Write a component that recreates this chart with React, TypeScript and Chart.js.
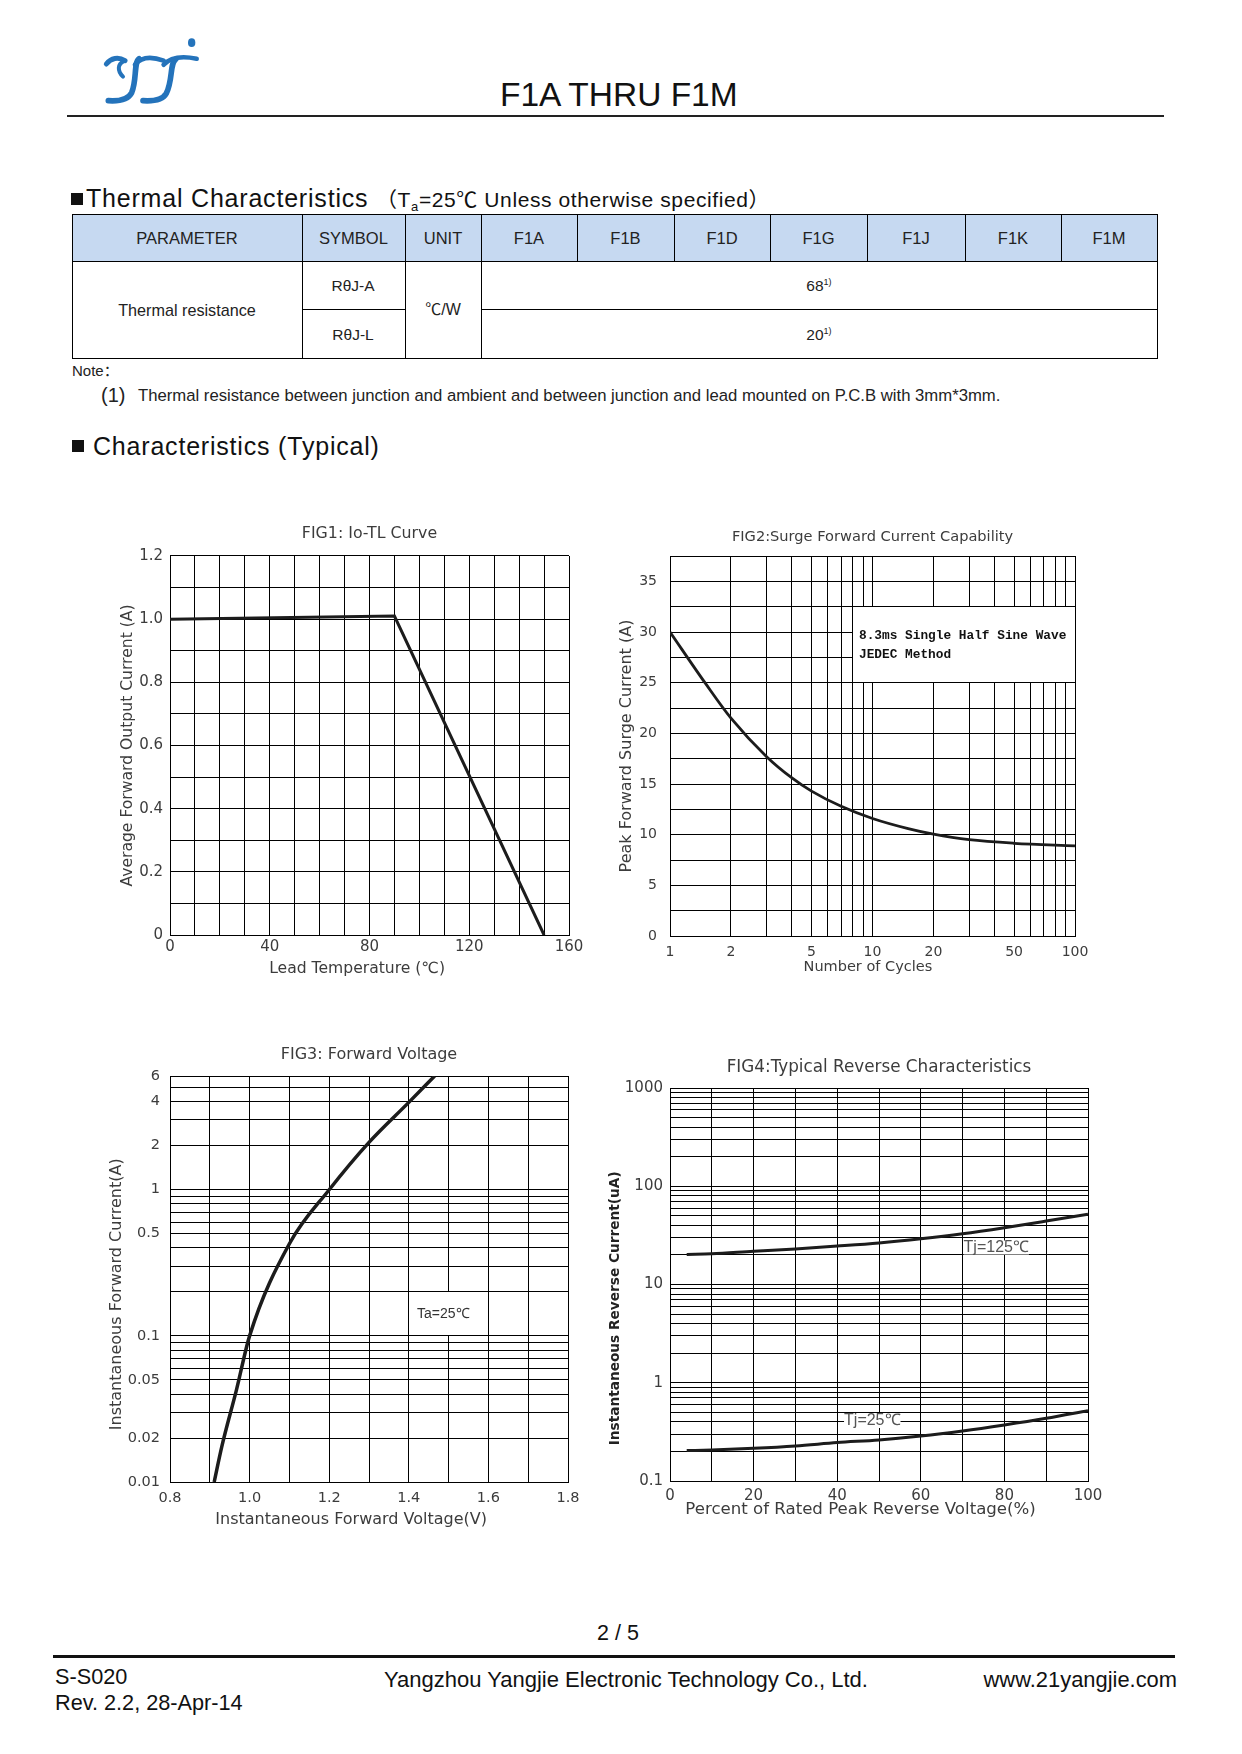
import React, { useEffect, useRef } from "react";
import { Chart, registerables } from "chart.js";

Chart.register(...registerables);

const SANS = "'DejaVu Sans', sans-serif";
const ARIAL = "'Liberation Sans', Arial, 'Noto Sans CJK SC', sans-serif";
const INK = "#3c3c3c";
const CURVE = "#1c1c1c";

// ---------------- FIG1: Io-TL curve ----------------
const fig1Temperature = [0, 90, 150];
const fig1Current = [1.0, 1.01, 0];
const fig1XTicks = [0, 10, 20, 30, 40, 50, 60, 70, 80, 90, 100, 110, 120, 130, 140, 150, 160];
const fig1XLabels = [0, 40, 80, 120, 160];
const fig1YTicks = [0, 0.1, 0.2, 0.3, 0.4, 0.5, 0.6, 0.7, 0.8, 0.9, 1.0, 1.1, 1.2];
const fig1YLabels = [0, 0.2, 0.4, 0.6, 0.8, 1.0, 1.2];

// ---------------- FIG2: surge current ----------------
const fig2Cycles = [1, 1.5, 2, 3, 4, 5, 7, 10, 15, 20, 30, 50, 100];
const fig2Surge = [30, 24.9, 21.5, 17.7, 15.6, 14.3, 12.8, 11.6, 10.6, 10.05, 9.5, 9.15, 8.9];
const fig2XTicks = [1, 2, 3, 4, 5, 6, 7, 8, 9, 10, 20, 30, 40, 50, 60, 70, 80, 90, 100];
const fig2XLabels = [1, 2, 5, 10, 20, 50, 100];
const fig2YTicks = [0, 2.5, 5, 7.5, 10, 12.5, 15, 17.5, 20, 22.5, 25, 27.5, 30, 32.5, 35, 37.5];
const fig2YLabels = [0, 5, 10, 15, 20, 25, 30, 35];
const fig2Note = ["8.3ms Single Half Sine Wave", "JEDEC Method"];

// ---------------- FIG3: forward voltage ----------------
const fig3Voltage = [0.911, 0.93, 0.967, 1.0, 1.1, 1.2, 1.3, 1.4, 1.465];
const fig3Current = [0.01, 0.0174, 0.0427, 0.1, 0.427, 1.0, 2.11, 3.96, 6.0];
const fig3XTicks = [0.8, 0.9, 1.0, 1.1, 1.2, 1.3, 1.4, 1.5, 1.6, 1.7, 1.8];
const fig3XLabels = [0.8, 1.0, 1.2, 1.4, 1.6, 1.8];
const fig3YTicks = [0.01, 0.02, 0.03, 0.04, 0.05, 0.06, 0.07, 0.08, 0.09, 0.1, 0.2, 0.3, 0.4, 0.5, 0.6, 0.7, 0.8, 0.9, 1, 2, 3, 4, 5, 6];
const fig3YLabels = [0.01, 0.02, 0.05, 0.1, 0.5, 1, 2, 4, 6];
const fig3Note = "Ta=25℃";

// ---------------- FIG4: reverse characteristics ----------------
const fig4Percent = [4, 10, 20, 30, 40, 50, 60, 70, 80, 90, 100];
const fig4Tj125 = [20.2, 20.5, 21.8, 23, 24.6, 26.5, 29.2, 32.8, 37.8, 44.2, 52];
const fig4Tj25 = [0.204, 0.207, 0.215, 0.227, 0.246, 0.262, 0.287, 0.323, 0.372, 0.435, 0.52];
const fig4XTicks = [0, 10, 20, 30, 40, 50, 60, 70, 80, 90, 100];
const fig4XLabels = [0, 20, 40, 60, 80, 100];
const fig4YTicks = [
  0.1, 0.2, 0.3, 0.4, 0.5, 0.6, 0.7, 0.8, 0.9,
  1, 2, 3, 4, 5, 6, 7, 8, 9,
  10, 20, 30, 40, 50, 60, 70, 80, 90,
  100, 200, 300, 400, 500, 600, 700, 800, 900, 1000,
];
const fig4YLabels = [0.1, 1, 10, 100, 1000];
const fig4SeriesNames = ["Tj=125℃", "Tj=25℃"];

// ---------------- table ----------------
const tableHeaders = ["PARAMETER", "SYMBOL", "UNIT", "F1A", "F1B", "F1D", "F1G", "F1J", "F1K", "F1M"];
const thermalSymbols = ["RθJ-A", "RθJ-L"];
const thermalValues = ["68", "20"];

type Axis = {
  type: "linear" | "logarithmic";
  min: number;
  max: number;
  grid: number[];
  labels: number[];
  fmt?: (v: number) => string;
};

type Fig = {
  plot: [number, number, number, number];
  title: string;
  titleY: number;
  titleSize: number;
  xTitle: string;
  xTitleY: number;
  xTitleSize: number;
  xTitleShift?: number; // number of trailing spaces (moves the centred title left)
  yTitle: string;
  yTitleX: number;
  yTitleSize: number;
  yTitleShift?: number; // trailing spaces (moves the rotated title down)
  yTitleBold?: boolean;
  tickSize: number;
  yGap: number;
  xLabelY: number;
  x: Axis;
  y: Axis;
  datasets: any[];
  plugins?: any[];
};

function frame(f: Fig) {
  const [, , r] = f.plot;
  const cx = Math.floor(f.yTitleX - f.yTitleSize * 0.6 - 6);
  const cy = Math.floor(f.titleY - f.titleSize * 0.6 - 6);
  const right = r + 30;
  const bottom = Math.ceil(f.xTitleY + f.xTitleSize * 0.6 + 6);
  return { cx, cy, cw: right - cx, ch: bottom - cy };
}

const pad = (s: string, n?: number) => s + " ".repeat(n || 0);

function buildConfig(f: Fig): any {
  const [l, t, r, b] = f.plot;
  const { cx, cy, cw, ch } = frame(f);
  const lhT = f.titleSize * 1.2;
  const lhX = f.xTitleSize * 1.2;
  const lhY = f.yTitleSize * 1.2;
  const lhTick = f.tickSize * 1.2;
  const mkScale = (a: Axis, horizontal: boolean) => ({
    type: a.type,
    min: a.min,
    max: a.max,
    afterBuildTicks: (s: any) => {
      s.ticks = a.grid.map((v) => ({ value: v }));
    },
    afterFit: horizontal
      ? (s: any) => {
          s.height = cy + ch - b;
        }
      : (s: any) => {
          s.width = l - cx;
        },
    grid: { color: "#000", lineWidth: 1, drawTicks: false },
    border: { color: "#000", width: 1 },
    ticks: {
      autoSkip: false,
      maxRotation: 0,
      minRotation: 0,
      padding: horizontal ? f.xLabelY - b - lhTick / 2 : f.yGap,
      font: { family: SANS, size: f.tickSize },
      color: INK,
      callback: (v: number) => (a.labels.includes(v) ? (a.fmt ? a.fmt(v) : String(v)) : ""),
    },
    title: horizontal
      ? {
          display: true,
          text: pad(f.xTitle, f.xTitleShift),
          color: INK,
          font: { family: SANS, size: f.xTitleSize },
          padding: { top: 0, bottom: cy + ch - f.xTitleY - lhX / 2 },
        }
      : {
          display: true,
          text: pad(f.yTitle, f.yTitleShift),
          color: f.yTitleBold ? "#222" : INK,
          font: { family: SANS, size: f.yTitleSize, weight: f.yTitleBold ? "bold" : "normal" },
          padding: { top: f.yTitleX - cx - lhY / 2, bottom: 0 },
        },
  });
  return {
    type: "line",
    data: { datasets: f.datasets },
    options: {
      responsive: false,
      animation: false,
      events: [],
      layout: { padding: { left: 0, top: 0, right: cx + cw - r, bottom: 0 } },
      plugins: {
        legend: { display: false },
        tooltip: { enabled: false },
        title: {
          display: true,
          text: f.title,
          fullSize: false,
          color: INK,
          font: { family: SANS, size: f.titleSize, weight: "normal" },
          padding: { top: f.titleY - lhT / 2 - cy, bottom: t - f.titleY - lhT / 2 },
        },
      },
      scales: { x: mkScale(f.x, true), y: mkScale(f.y, false) },
    },
    plugins: f.plugins || [],
  };
}

const lineDs = (xs: number[], ys: number[], width: number, smooth: boolean) => ({
  data: xs.map((x, i) => ({ x, y: ys[i] })),
  borderColor: CURVE,
  borderWidth: width,
  pointRadius: 0,
  fill: false,
  tension: smooth ? 0.4 : 0,
  cubicInterpolationMode: smooth ? "monotone" : "default",
});

const gridCol = (p: number) => Math.round(p - 0.5);

const fig2NotePlugin = {
  id: "fig2note",
  beforeDatasetsDraw(chart: any) {
    const { ctx, scales, chartArea } = chart;
    const x0 = gridCol(scales.x.getPixelForValue(8));
    const x1 = gridCol(chartArea.right);
    const y0 = gridCol(scales.y.getPixelForValue(32.5));
    const y1 = gridCol(scales.y.getPixelForValue(25));
    ctx.save();
    ctx.fillStyle = "#fff";
    ctx.fillRect(x0 + 1, y0 + 1, x1 - x0 - 1, y1 - y0 - 1);
    ctx.fillStyle = "#111";
    ctx.font = "bold 12.8px 'Liberation Mono', monospace";
    ctx.textBaseline = "middle";
    ctx.textAlign = "left";
    ctx.fillText(fig2Note[0], x0 + 7, y0 + (y1 - y0) * 0.39);
    ctx.fillText(fig2Note[1], x0 + 7, y0 + (y1 - y0) * 0.64);
    ctx.restore();
  },
};

const fig3NotePlugin = {
  id: "fig3note",
  beforeDatasetsDraw(chart: any) {
    const { ctx, scales } = chart;
    const x0 = gridCol(scales.x.getPixelForValue(1.4));
    const x1 = gridCol(scales.x.getPixelForValue(1.6));
    const y0 = gridCol(scales.y.getPixelForValue(0.2));
    const y1 = gridCol(scales.y.getPixelForValue(0.1));
    ctx.save();
    ctx.fillStyle = "#fff";
    ctx.fillRect(x0 + 1, y0 + 1, x1 - x0 - 1, y1 - y0 - 1);
    ctx.fillStyle = "#333";
    ctx.font = "14px 'Liberation Sans', sans-serif";
    ctx.textBaseline = "middle";
    ctx.textAlign = "left";
    ctx.fillText(fig3Note, x0 + 9, (y0 + y1) / 2 + 1);
    ctx.restore();
  },
};

const fig4LabelPlugin = {
  id: "fig4labels",
  afterDatasetsDraw(chart: any) {
    const { ctx, scales } = chart;
    const spots = [
      { text: fig4SeriesNames[0], x: 70, y: 23.8 },
      { text: fig4SeriesNames[1], x: 41.4, y: 0.408 },
    ];
    ctx.save();
    ctx.font = "16px 'Liberation Sans', sans-serif";
    ctx.textBaseline = "middle";
    ctx.textAlign = "left";
    for (const s of spots) {
      const px = scales.x.getPixelForValue(s.x);
      const py = scales.y.getPixelForValue(s.y);
      const w = ctx.measureText(s.text).width;
      ctx.fillStyle = "#fff";
      ctx.fillRect(px + 1, py - 7, w, 14);
      ctx.fillStyle = "#555";
      ctx.fillText(s.text, px + 1, py);
    }
    ctx.restore();
  },
};

const fig1: Fig = {
  plot: [170, 556, 569, 935],
  title: "FIG1: Io-TL Curve",
  titleY: 534,
  titleSize: 15.8,
  xTitle: "Lead Temperature (℃)",
  xTitleY: 969,
  xTitleSize: 15.6,
  xTitleShift: 5,
  yTitle: "Average Forward Output Current (A)",
  yTitleX: 128,
  yTitleSize: 15.6,
  tickSize: 15,
  yGap: 7,
  xLabelY: 947,
  x: { type: "linear", min: 0, max: 160, grid: fig1XTicks, labels: fig1XLabels },
  y: {
    type: "linear",
    min: 0,
    max: 1.2,
    grid: fig1YTicks,
    labels: fig1YLabels,
    fmt: (v) => (v === 0 ? "0" : v.toFixed(1)),
  },
  datasets: [lineDs(fig1Temperature, fig1Current, 3, false)],
};

const fig2: Fig = {
  plot: [670, 556, 1075, 936],
  title: "FIG2:Surge Forward Current Capability",
  titleY: 537,
  titleSize: 14.6,
  xTitle: "Number of Cycles",
  xTitleY: 967,
  xTitleSize: 14.5,
  xTitleShift: 2,
  yTitle: "Peak Forward Surge Current (A)",
  yTitleX: 627,
  yTitleSize: 16,
  tickSize: 14,
  yGap: 13,
  xLabelY: 952,
  x: { type: "logarithmic", min: 1, max: 100, grid: fig2XTicks, labels: fig2XLabels },
  y: { type: "linear", min: 0, max: 37.5, grid: fig2YTicks, labels: fig2YLabels },
  datasets: [lineDs(fig2Cycles, fig2Surge, 2.8, true)],
  plugins: [fig2NotePlugin],
};

const fig3: Fig = {
  plot: [170, 1076, 568, 1482],
  title: "FIG3: Forward Voltage",
  titleY: 1055,
  titleSize: 16,
  xTitle: "Instantaneous Forward Voltage(V)",
  xTitleY: 1520,
  xTitleSize: 16,
  xTitleShift: 7,
  yTitle: "Instantaneous Forward Current(A)",
  yTitleX: 117,
  yTitleSize: 16,
  yTitleShift: 6,
  tickSize: 14.5,
  yGap: 10,
  xLabelY: 1498,
  x: {
    type: "linear",
    min: 0.8,
    max: 1.8,
    grid: fig3XTicks,
    labels: fig3XLabels,
    fmt: (v) => v.toFixed(1),
  },
  y: { type: "logarithmic", min: 0.01, max: 6, grid: fig3YTicks, labels: fig3YLabels },
  datasets: [lineDs(fig3Voltage, fig3Current, 3.5, true)],
  plugins: [fig3NotePlugin],
};

const fig4: Fig = {
  plot: [670, 1088, 1088, 1481],
  title: "FIG4:Typical Reverse Characteristics",
  titleY: 1068,
  titleSize: 16.8,
  xTitle: "Percent of Rated Peak Reverse Voltage(%)",
  xTitleY: 1510,
  xTitleSize: 16.6,
  xTitleShift: 7,
  yTitle: "Instantaneous Reverse Current(uA)",
  yTitleX: 615,
  yTitleSize: 13.7,
  yTitleShift: 10,
  yTitleBold: true,
  tickSize: 15,
  yGap: 7,
  xLabelY: 1496,
  x: { type: "linear", min: 0, max: 100, grid: fig4XTicks, labels: fig4XLabels },
  y: { type: "logarithmic", min: 0.1, max: 1000, grid: fig4YTicks, labels: fig4YLabels },
  datasets: [lineDs(fig4Percent, fig4Tj125, 3, true), lineDs(fig4Percent, fig4Tj25, 3, true)],
  plugins: [fig4LabelPlugin],
};

function Figure({ fig }: { fig: Fig }) {
  const ref = useRef<HTMLCanvasElement>(null);
  const fr = frame(fig);
  useEffect(() => {
    const chart = new Chart(ref.current as HTMLCanvasElement, buildConfig(fig));
    return () => chart.destroy();
  }, []);
  return (
    <canvas
      ref={ref}
      width={fr.cw}
      height={fr.ch}
      style={{ position: "absolute", left: fr.cx, top: fr.cy, width: fr.cw, height: fr.ch }}
    />
  );
}

type TxtProps = {
  x: number;
  y: number;
  fs: number;
  align?: "left" | "center" | "right";
  family?: string;
  weight?: number;
  color?: string;
  ls?: number;
  style?: any;
  children?: any;
};

function Txt({ x, y, fs, align = "left", family = ARIAL, weight = 400, color = "#111", ls = 0, style, children }: TxtProps) {
  const s: any = {
    position: "absolute",
    top: y - 0.4885 * fs,
    fontSize: fs,
    lineHeight: 1,
    fontFamily: family,
    fontWeight: weight,
    color,
    letterSpacing: ls,
    whiteSpace: "nowrap",
  };
  if (align === "left") s.left = x;
  else if (align === "center") {
    s.left = x - 500;
    s.width = 1000;
    s.textAlign = "center";
  } else {
    s.left = x - 1000;
    s.width = 1000;
    s.textAlign = "right";
  }
  return <div style={{ ...s, ...style }}>{children}</div>;
}

const Rect = ({ x, y, w, h, c = "#000" }: { x: number; y: number; w: number; h: number; c?: string }) => (
  <div style={{ position: "absolute", left: x, top: y, width: w, height: h, background: c }} />
);

function Logo() {
  const blue = "#2473bb";
  const p = { fill: "none", stroke: blue, strokeLinecap: "round" as const };
  return (
    <svg width={120} height={85} viewBox="0 0 360 255" style={{ position: "absolute", left: 95, top: 30 }}>
      <path d="M34,102 C48,84 70,80 90,92" strokeWidth={15} {...p} />
      <path d="M86,94 C68,102 66,122 84,140" strokeWidth={12} {...p} />
      <path d="M132,86 C116,98 126,150 110,188 C100,208 72,214 40,212" strokeWidth={17} {...p} />
      <path d="M120,104 C136,84 166,78 206,92" strokeWidth={14} {...p} />
      <path d="M242,88 C224,100 234,150 214,190 C204,208 177,214 144,212" strokeWidth={17} {...p} />
      <path d="M206,104 C224,84 256,76 305,86" strokeWidth={14} {...p} />
      <ellipse cx={290} cy={38} rx={11} ry={13} fill={blue} />
    </svg>
  );
}

function ThermalTable() {
  const cols = [72, 302, 405, 481, 577, 674, 770, 867, 965, 1061, 1157];
  const top = 214;
  const headBottom = 261;
  const mid = 309;
  const bottom = 358;
  const lines: any[] = [];
  lines.push(<Rect key="bg" x={72} y={top} w={1157 - 72} h={headBottom - top} c="#c6d9f1" />);
  [top, headBottom, bottom].forEach((y, i) => lines.push(<Rect key={"h" + i} x={72} y={y} w={1157 - 72 + 1} h={1} />));
  lines.push(<Rect key="m1" x={302} y={mid} w={405 - 302} h={1} />);
  lines.push(<Rect key="m2" x={481} y={mid} w={1157 - 481} h={1} />);
  cols.forEach((x, i) => {
    const full = i <= 3 || i === cols.length - 1;
    lines.push(<Rect key={"v" + i} x={x} y={top} w={1} h={(full ? bottom : headBottom) - top + 1} />);
  });
  const headerText = tableHeaders.map((h, i) => (
    <Txt key={"t" + i} x={(cols[i] + cols[i + 1]) / 2} y={238} fs={16.5} align="center" color="#222">
      {h}
    </Txt>
  ));
  const sup = { fontSize: 9, verticalAlign: "6px" };
  return (
    <>
      {lines}
      {headerText}
      <Txt x={187} y={310} fs={16.2} align="center" color="#222">Thermal resistance</Txt>
      <Txt x={353} y={286} fs={15.5} align="center" color="#222">{thermalSymbols[0]}</Txt>
      <Txt x={353} y={335} fs={15.5} align="center" color="#222">{thermalSymbols[1]}</Txt>
      <Txt x={443} y={310} fs={16} align="center" color="#222">℃/W</Txt>
      <Txt x={819} y={286} fs={15.5} align="center" color="#222">
        {thermalValues[0]}
        <span style={sup}>1)</span>
      </Txt>
      <Txt x={819} y={335} fs={15.5} align="center" color="#222">
        {thermalValues[1]}
        <span style={sup}>1)</span>
      </Txt>
    </>
  );
}

export default function App() {
  return (
    <div
      style={{
        position: "absolute",
        left: 0,
        top: 0,
        width: 1242,
        height: 1754,
        overflow: "hidden",
        background: "#fff",
        fontFamily: ARIAL,
      }}
    >
      <Logo />
      <Txt x={500} y={94} fs={33.5} color="#111">F1A THRU F1M</Txt>
      <Rect x={67} y={115} w={1097} h={2} c="#222" />

      <Rect x={71} y={193} w={12} h={12} c="#111" />
      <Txt x={86} y={198} fs={25} ls={0.8} color="#111">Thermal Characteristics</Txt>
      <Txt x={376} y={199} fs={21} ls={0.6} color="#111">
        （T<span style={{ fontSize: 13, verticalAlign: "-4px" }}>a</span>=25℃ Unless otherwise specified）
      </Txt>

      <ThermalTable />

      <Txt x={72} y={370} fs={15} color="#222">Note：</Txt>
      <Txt x={101} y={395} fs={20} color="#222">(1)</Txt>
      <Txt x={138} y={396} fs={16.7} color="#222">
        Thermal resistance between junction and ambient and between junction and lead mounted on P.C.B with 3mm*3mm.
      </Txt>

      <Rect x={72} y={440} w={12} h={12} c="#111" />
      <Txt x={93} y={446} fs={25} ls={0.8} color="#111">Characteristics (Typical)</Txt>

      <Figure fig={fig1} />
      <Figure fig={fig2} />
      <Figure fig={fig3} />
      <Figure fig={fig4} />

      <Txt x={618} y={1634} fs={21.5} align="center" color="#111">2 / 5</Txt>
      <Rect x={53} y={1655} w={1122} h={2.5} c="#111" />
      <Txt x={55} y={1677} fs={21.7} color="#111">S-S020</Txt>
      <Txt x={55} y={1703} fs={21.7} color="#111">Rev. 2.2, 28-Apr-14</Txt>
      <Txt x={626} y={1680} fs={22} align="center" color="#111">
        Yangzhou Yangjie Electronic Technology Co., Ltd.
      </Txt>
      <Txt x={1177} y={1680} fs={21.9} align="right" color="#111">www.21yangjie.com</Txt>
    </div>
  );
}
